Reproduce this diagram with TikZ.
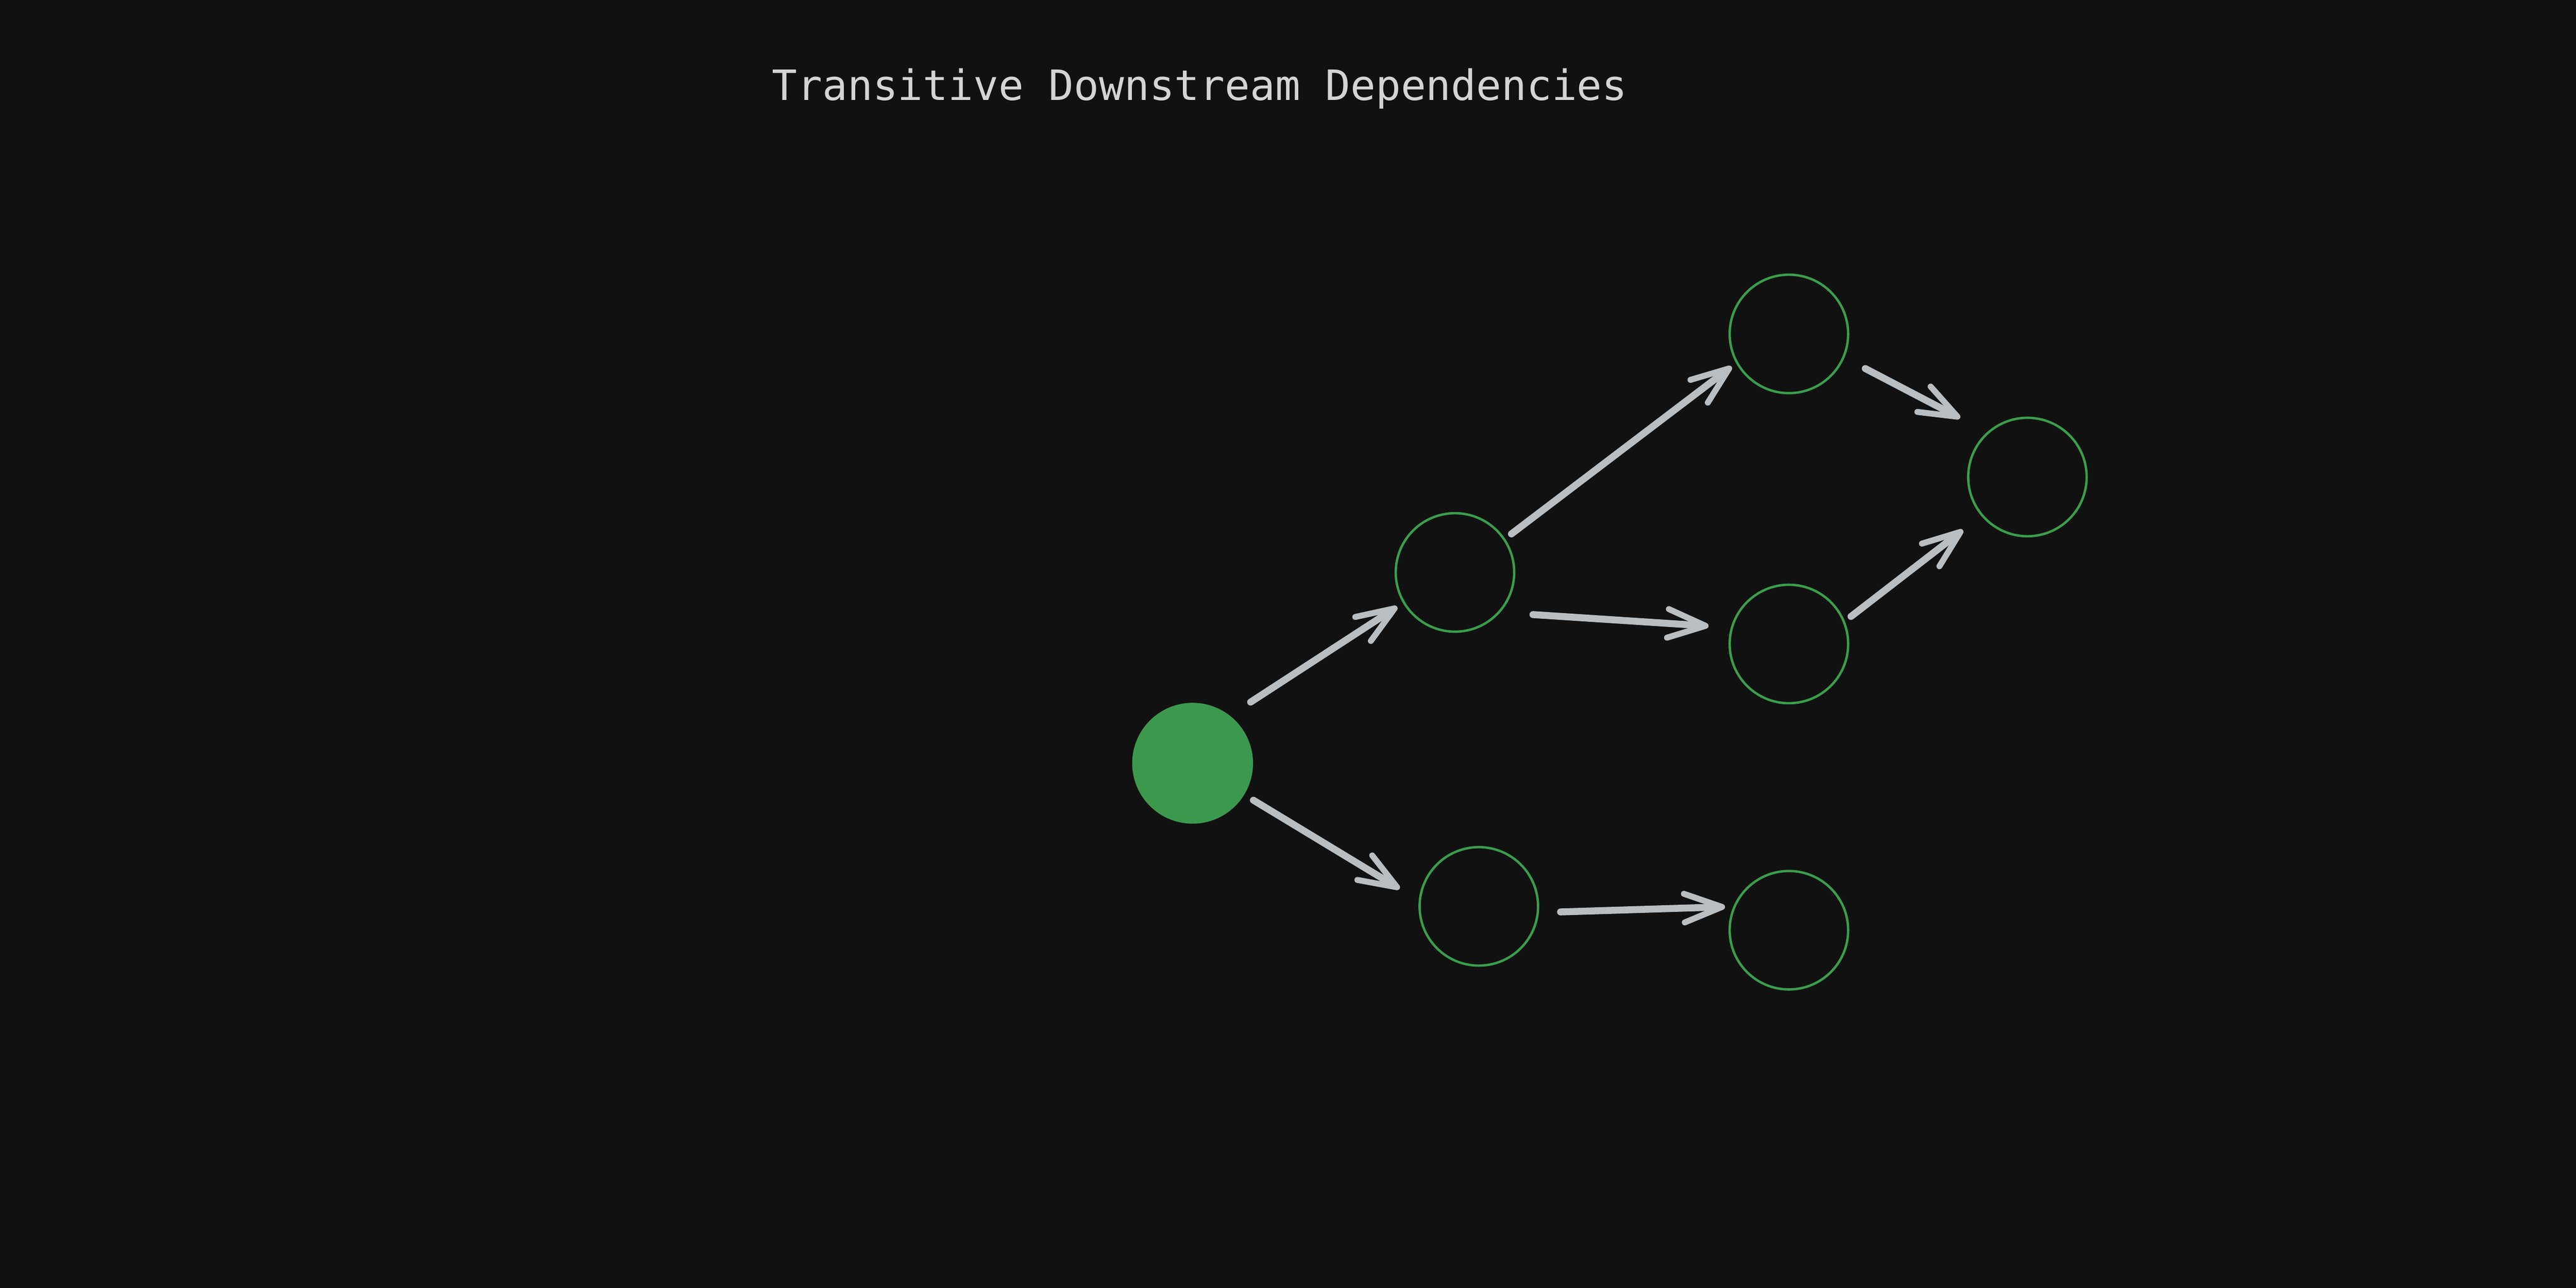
\documentclass[tikz,border=0pt]{standalone}
\usepackage{fontspec}
\newfontfamily\titlefont{DejaVu Sans Mono}
\usetikzlibrary{arrows.meta,calc}
\definecolor{bg}{HTML}{111111}
\definecolor{titlegray}{HTML}{D4D4D4}
\definecolor{arrowgray}{HTML}{B9BEC2}
\definecolor{ringgreen}{HTML}{3A9E4C}
\definecolor{rootgreen}{HTML}{3B994E}
\tikzset{
  vertex/.style={circle, draw=ringgreen, line width=0.06cm, minimum size=2.98cm, inner sep=0pt, outer sep=0pt},
  rootvertex/.style={circle, fill=rootgreen, minimum size=3.04cm, inner sep=0pt, outer sep=0pt},
  arr/.style={draw=arrowgray, line width=0.175cm, line cap=round,
    -{Straight Barb[length=9.5mm, width=7.2mm, line width=0.15cm, round]}},
  titlestyle/.style={anchor=base, text=titlegray, inner sep=0pt, font=\titlefont\fontsize{29.9}{32}\selectfont}
}
\begin{document}
\begin{tikzpicture}
\fill[bg] (0,0) rectangle (64.8,32.4);
\useasboundingbox (0,0) rectangle (64.8,32.4);
\node[titlestyle] (title) at (30.18,29.88) {Transitive Downstream Dependencies};
\node[rootvertex] (A) at (30.00,13.20) {};
\node[vertex] (B) at (36.60,18.00) {};
\node[vertex] (C) at (37.20,9.60) {};
\node[vertex] (D) at (45.00,24.00) {};
\node[vertex] (E) at (45.00,16.20) {};
\node[vertex] (F) at (51.00,20.40) {};
\node[vertex] (G) at (45.00,9.00) {};
\draw[arr] ($(A)+(46.5:2.12)$) -- ($(B)+(210.7:1.69)$);
\draw[arr] ($(A)+(-31.3:1.79)$) -- ($(C)+(167.5:2.04)$);
\draw[arr] ($(B)+(34.3:1.72)$) -- ($(D)+(209.7:1.66)$);
\draw[arr] ($(B)+(-28.4:2.23)$) -- ($(E)+(167.4:2.07)$);
\draw[arr] ($(C)+(-3.9:2.06)$) -- ($(G)+(159.9:1.71)$);
\draw[arr] ($(D)+(-24.4:2.11)$) -- ($(F)+(138.8:2.25)$);
\draw[arr] ($(E)+(23.9:1.71)$) -- ($(F)+(219.4:2.10)$);
\end{tikzpicture}
\end{document}
